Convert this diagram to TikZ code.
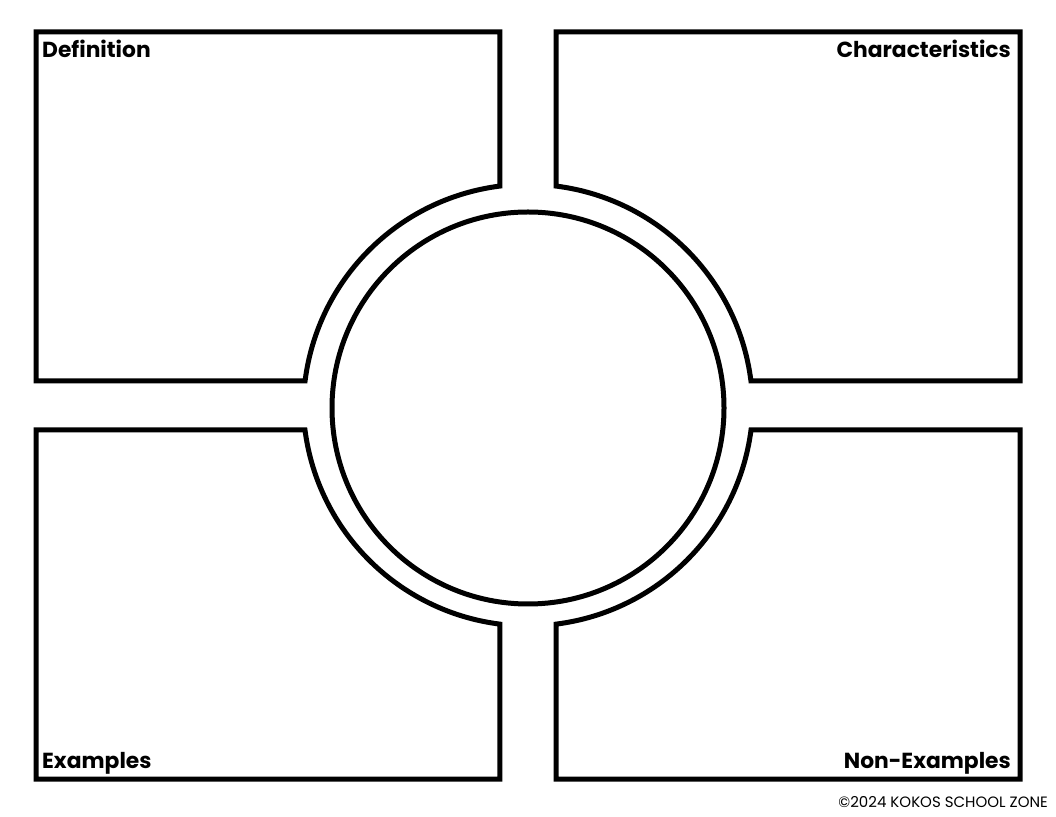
\documentclass[tikz,border=0pt]{standalone}
\usepackage{fontspec}
\setmainfont{Poppins}
\usetikzlibrary{positioning}

\begin{document}
\begin{tikzpicture}[
      x=1pt, y=1pt,
      quad/.style = {
          draw,
          line width=5pt,
        },
      hub/.style = {
          draw,
          circle,
          line width=5pt,
          inner sep=0pt,
          minimum size=392pt,
        },
      title/.style = {
          font=\bfseries\fontsize{21.8}{24}\selectfont,
          inner sep=0pt,
        },
      credit/.style = {
          font=\fontsize{15}{17}\selectfont,
          inner sep=0pt,
        },
    ]

    \useasboundingbox (0,0) rectangle (1056,816);

    \coordinate (cu) at (528,407);
    \coordinate (cl) at (528,415);

    % upper boxes
    \draw[quad] (cu) ++(97.2:224.7)
      arc[start angle=97.2, end angle=172.8, radius=224.7]
      -| (36,784) -| cycle;
    \draw[quad] (cu) ++(82.8:224.7)
      arc[start angle=82.8, end angle=7.2, radius=224.7]
      -| (1020,784) -| cycle;

    % lower boxes
    \draw[quad] (cl) ++(262.8:224.9)
      arc[start angle=262.8, end angle=187.4, radius=224.9]
      -| (36,37) -| cycle;
    \draw[quad] (cl) ++(277.2:224.9)
      arc[start angle=277.2, end angle=352.6, radius=224.9]
      -| (1020,37) -| cycle;

    \node[hub] (centre) at (528,408) {};

    \node[title, anchor=base west] (definition) at (42,758) {Definition};
    \node[title, anchor=base east] (characteristics) at (1011,758) {Characteristics};
    \node[title, anchor=base west] (examples) at (42,48) {Examples};
    \node[title, anchor=base east] (nonexamples) at (1011,48) {Non-Examples};

    \node[credit, anchor=base east] (copyright) at (1048,9) {©2024 KOKOS SCHOOL ZONE};

  \end{tikzpicture}
\end{document}
